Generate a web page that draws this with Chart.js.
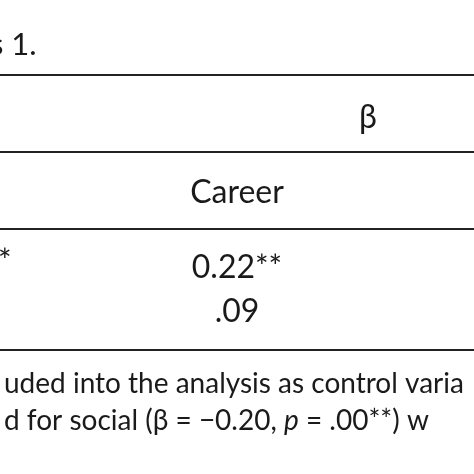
<!DOCTYPE html>
<html><head><meta charset="utf-8">
<script src="https://cdn.jsdelivr.net/npm/chart.js@4"></script>
<style>html,body{margin:0;padding:0;background:#fff}#w{width:474px;height:474px}</style>
</head><body><div id="w"><canvas id="c"></canvas></div>
<script>
const titleText = ["s 1."];
const headerLabels = ["β"];
const columnLabels = ["Career"];
const row1Values = ["*", "0.22**"];
const row2Values = [".09"];
const noteLine1 = ["uded into the analysis as control varia"];
const noteLine2Parts = ["d for social (β = −0.20, ", "p", " = .00**) w"];

const FAM = 'Lato, "DejaVu Sans", sans-serif';
const tablePlugin = {
  id: 'table',
  afterDraw(chart) {
    const ctx = chart.ctx, x = chart.scales.x, y = chart.scales.y;
    const X = v => x.getPixelForValue(v), Y = v => y.getPixelForValue(v);
    ctx.save();
    ctx.fillStyle = '#1a1a1a'; ctx.strokeStyle = '#222';
    ctx.textBaseline = 'middle';
    [[75,2],[152,2],[229,2],[350,2]].forEach(([v,w]) => {
      ctx.lineWidth = w; ctx.beginPath(); ctx.moveTo(X(0), Y(v)); ctx.lineTo(X(474), Y(v)); ctx.stroke();
    });
    ctx.font = '31px ' + FAM;
    ctx.textAlign = 'left';
    ctx.fillText(titleText[0], X(-10), Y(45));
    ctx.font = '32px ' + FAM;
    ctx.textAlign = 'center';
    ctx.fillText(headerLabels[0], X(368), Y(118));
    ctx.fillText(columnLabels[0], X(237), Y(193));
    ctx.textAlign = 'left';
    ctx.fillText(row1Values[0], X(-2), Y(262));
    ctx.textAlign = 'center';
    ctx.fillText(row1Values[1], X(237), Y(268));
    ctx.fillText(row2Values[0], X(237), Y(312));
    ctx.textAlign = 'left';
    ctx.font = '28px ' + FAM;
    ctx.fillText(noteLine1[0], X(4), Y(384));
    let px = X(4);
    noteLine2Parts.forEach((s, i) => {
      ctx.font = (i === 1 ? 'italic ' : '') + '28px ' + FAM;
      ctx.fillText(s, px, Y(421));
      px += ctx.measureText(s).width;
    });
    ctx.restore();
  }
};
new Chart(document.getElementById('c'), {
  type: 'scatter',
  data: { datasets: [{ data: [] }] },
  options: {
    responsive: true, maintainAspectRatio: false, animation: false,
    layout: { padding: 0 },
    plugins: { legend: { display: false }, tooltip: { enabled: false } },
    scales: {
      x: { type: 'linear', min: 0, max: 474, display: false },
      y: { type: 'linear', min: 0, max: 474, reverse: true, display: false }
    }
  },
  plugins: [tablePlugin]
});
</script></body></html>
